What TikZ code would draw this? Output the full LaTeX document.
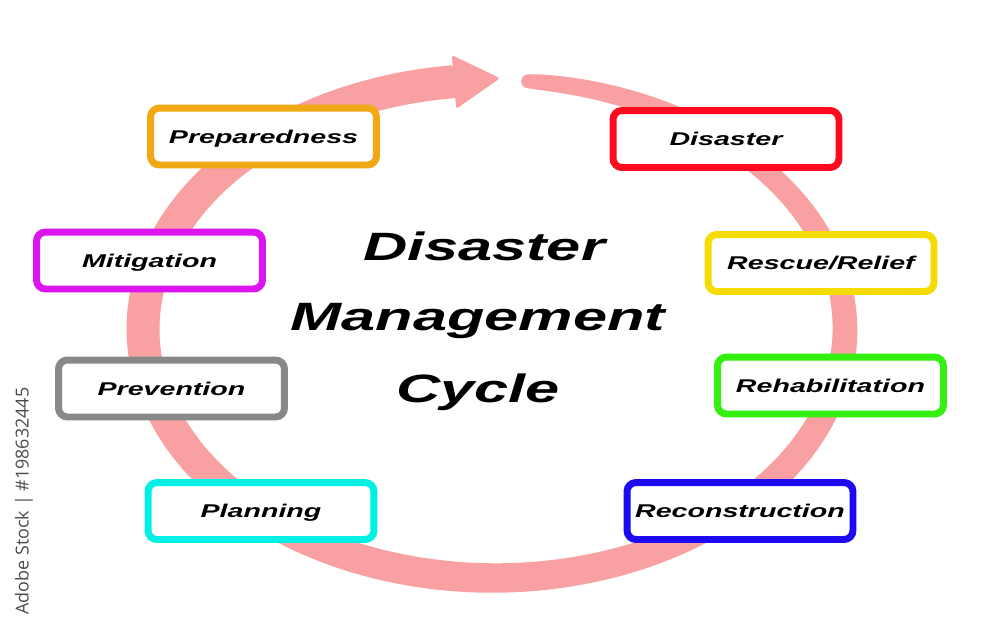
\documentclass[tikz,border=0pt]{standalone}
\usepackage{fontspec}
\newfontfamily\lblfont[FakeStretch=1.55]{Liberation Sans}
\newfontfamily\wmfont{Open Sans}
\definecolor{bandpink}{HTML}{F8A0A2}
\definecolor{cPrep}{HTML}{F0A814}
\definecolor{cMiti}{HTML}{DC14F0}
\definecolor{cPrev}{HTML}{888888}
\definecolor{cPlan}{HTML}{00F0E6}
\definecolor{cDis}{HTML}{FF0A1E}
\definecolor{cResc}{HTML}{F5DC00}
\definecolor{cReha}{HTML}{33F00F}
\definecolor{cReco}{HTML}{1E0AF0}
\begin{document}
\begin{tikzpicture}[x=0.02cm,y=-0.02cm,
  declare function={bw(\t)=14+19*sqrt(min(1,(\t+84.4)/264.4));},
  stagebox/.style={draw=#1, line width=3.97pt, rounded corners=0.18cm, fill=white,
    minimum width=4.52cm, minimum height=1.14cm, inner sep=0pt,
    text height=7.6pt, text depth=0pt,
    font=\lblfont\bfseries\itshape\fontsize{10.5}{12}\selectfont},
  ttl/.style={font=\lblfont\bfseries\itshape\fontsize{22.5}{27}\selectfont, anchor=base}]
\useasboundingbox[fill=white] (0,0) rectangle (1000,627);
% ring band
\fill[bandpink] plot[domain=-84.4:263.5, samples=200, variable=\t]
  ({494+(351+bw(\t)/2)*cos(\t)},{329+(249+bw(\t)/2)*sin(\t)})
  -- plot[domain=263.5:-84.4, samples=200, variable=\t]
  ({494+(351-bw(\t)/2)*cos(\t)},{329+(249-bw(\t)/2)*sin(\t)}) -- cycle;
\coordinate (tailend) at (528.2,81.2);
\fill[bandpink] (tailend) circle[radius=7];
\coordinate (hA) at (451.8,55.1);
\coordinate (hTip) at (500,78.2);
\coordinate (hB) at (456.2,108.9);
\fill[bandpink, rounded corners=1.5pt] (hA) -- (hTip) -- (hB) -- cycle;
% stage boxes
\node[stagebox=cPrep] (prep) at (263.5,136.5) {Preparedness};
\node[stagebox=cMiti] (miti) at (149.5,260.5) {Mitigation};
\node[stagebox=cPrev] (prev) at (171.5,388.5) {Prevention};
\node[stagebox=cPlan] (plan) at (261,511) {Planning};
\node[stagebox=cDis]  (dis)  at (726,139) {Disaster};
\node[stagebox=cResc] (resc) at (821,263) {Rescue/Relief};
\node[stagebox=cReha] (reha) at (830.5,385.5) {Rehabilitation};
\node[stagebox=cReco] (reco) at (740,511) {Reconstruction};
% title
\node[ttl] (t1) at (484,260) {Disaster};
\node[ttl] (t2) at (478,330) {Management};
\node[ttl] (t3) at (478,402) {Cycle};
% side credit
\node[rotate=90, text=black!70, font=\wmfont\fontsize{10.2}{12}\selectfont, inner sep=0pt] (credit) at (24,501) {Adobe Stock | \#198632445};
\end{tikzpicture}
\end{document}
